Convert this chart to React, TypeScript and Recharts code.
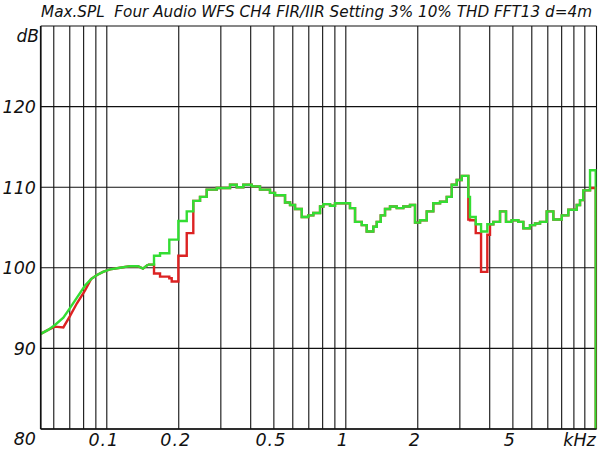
import React from 'react';
import { LineChart, Line, XAxis, YAxis, CartesianGrid } from 'recharts';

const TITLE = 'Max.SPL  Four Audio WFS CH4 FIR/IIR Setting 3% 10% THD FFT13 d=4m';

// frequency axis (kHz)
const F_MIN = 0.0529;
const F_MAX = 11.19;
const gridFreqs = [0.06, 0.07, 0.08, 0.09, 0.1, 0.2, 0.3, 0.4, 0.5, 0.6, 0.7, 0.8, 0.9, 1, 2, 3, 4, 5, 6, 7, 8, 9, 10];
const labeledFreqs = [0.1, 0.2, 0.5, 1, 2, 5];
const X_UNIT = 'kHz';

// level axis (dB)
const dbTicks = [80, 90, 100, 110, 120, 130];
const Y_UNIT = 'dB';

// smooth low-frequency part
const lowFreq = [0.0529, 0.0568, 0.0607, 0.0658, 0.0701, 0.075, 0.0811, 0.0859, 0.091, 0.0964, 0.1031, 0.1136, 0.125, 0.1351, 0.1417, 0.1487];
const lowGreen = [91.8, 92.3, 92.9, 93.8, 95.0, 96.3, 97.8, 98.6, 99.1, 99.5, 99.8, 100.0, 100.2, 100.2, 99.9, 100.4];
const lowRed = [91.8, 92.3, 92.7, 92.6, 94.0, 95.6, 97.2, 98.6, 99.1, 99.5, 99.8, 100.0, 100.2, 100.2, 99.9, 100.4];

// 1/12-octave stepped part
const stepFreq = [0.1487, 0.1576, 0.167, 0.1826, 0.1869, 0.1992, 0.216, 0.2301, 0.2455, 0.2618, 0.2883, 0.3278, 0.3496, 0.3725, 0.404, 0.4375, 0.4817, 0.5056, 0.5568, 0.5843, 0.6132, 0.6541, 0.6966, 0.7311, 0.7802, 0.8054, 0.8589, 0.9012, 1.041, 1.093, 1.166, 1.223, 1.303, 1.347, 1.4, 1.459, 1.531, 1.633, 1.74, 1.856, 1.948, 2.044, 2.181, 2.323, 2.479, 2.644, 2.774, 2.911, 3.054, 3.255, 3.308, 3.496, 3.68, 3.909, 4.011, 4.142, 4.418, 4.68, 4.944, 5.27, 5.53, 5.898, 6.189, 6.495, 6.927, 7.384, 8.006, 8.531, 9.25, 9.548, 9.856, 10.515, 11.107];
const stepGreen = [100.4, 101.5, 101.8, 103.5, 103.5, 105.8, 107.0, 108.3, 108.8, 109.7, 109.9, 110.3, 110.0, 110.3, 110.1, 109.7, 109.3, 109.0, 108.1, 107.8, 107.3, 106.3, 106.5, 106.8, 107.6, 107.9, 107.7, 108.0, 107.4, 105.7, 105.3, 104.5, 105.1, 105.7, 106.5, 107.3, 107.6, 107.4, 107.6, 107.8, 105.6, 105.9, 107.0, 108.0, 108.2, 108.8, 110.3, 110.9, 111.4, 108.8, 106.3, 105.4, 104.5, 105.4, 105.4, 105.7, 107.0, 105.7, 105.9, 105.7, 104.9, 105.3, 105.5, 105.7, 107.0, 106.0, 106.5, 107.2, 107.8, 108.4, 109.6, 112.1, 80];
const stepRed = [100.4, 99.3, 98.9, 98.7, 98.3, 101.5, 104.3, 108.3, 108.8, 109.7, 109.9, 110.3, 110.0, 110.3, 110.1, 109.7, 109.3, 109.0, 108.1, 107.8, 107.3, 106.3, 106.5, 106.8, 107.6, 107.9, 107.7, 108.0, 107.4, 105.7, 105.3, 104.5, 105.1, 105.7, 106.5, 107.3, 107.6, 107.4, 107.6, 107.8, 105.6, 105.9, 107.0, 108.0, 108.2, 108.8, 110.3, 110.9, 111.4, 106.0, 105.9, 104.3, 99.5, 104.1, 105.4, 105.7, 107.0, 105.7, 105.9, 105.7, 104.9, 105.3, 105.5, 105.7, 107.0, 106.0, 106.5, 107.2, 107.8, 108.4, 109.6, 109.9, 80];

const lowData = lowFreq.map((f, i) => ({ f, green: lowGreen[i], red: lowRed[i] }));
const stepData = stepFreq.map((f, i) => ({ f, green: stepGreen[i], red: stepRed[i] }));

const FONT = '"DejaVu Sans", Verdana, sans-serif';
const TITLE_FONT = '"DejaVu Sans Condensed", "DejaVu Sans", sans-serif';
const GREEN = '#33dd33';
const RED = '#dc2222';
const GRID = '#111';

function XTick(props: any) {
  const { x, payload } = props;
  const v = payload.value;
  if (v === F_MAX) {
    return (
      <text x={x - 17} y={446} textAnchor="middle" fontFamily={FONT} fontStyle="italic" fontSize={17.5} fill="#111">
        {X_UNIT}
      </text>
    );
  }
  if (!labeledFreqs.includes(v)) return <g />;
  return (
    <text x={x - 3} y={446} textAnchor="middle" fontFamily={FONT} fontStyle="italic" fontSize={17.5} letterSpacing={1} fill="#111">
      {String(v)}
    </text>
  );
}

function YTick(props: any) {
  const { y, payload } = props;
  const v = payload.value;
  if (v === 130) {
    return (
      <text x={39} y={y + 15.7} textAnchor="end" fontFamily={FONT} fontStyle="italic" fontSize={17} fill="#111">
        {Y_UNIT}
      </text>
    );
  }
  const dy = v === 80 ? 15.5 : 6.5;
  return (
    <text x={36} y={y + dy} textAnchor="end" fontFamily={FONT} fontStyle="italic" fontSize={17.5} fill="#111">
      {String(v)}
    </text>
  );
}

export default function App() {
  return (
    <div style={{ position: 'absolute', left: 0, top: 0, width: 600, height: 450, background: '#fff' }}>
      <LineChart width={600} height={450} margin={{ top: 26, right: 3.5, bottom: 0, left: 0 }}>
        <CartesianGrid stroke={GRID} strokeWidth={1.1} />
        <XAxis
          dataKey="f"
          type="number"
          scale="log"
          domain={[F_MIN, F_MAX]}
          ticks={[...gridFreqs, F_MAX]}
          allowDataOverflow
          height={21}
          tickLine={false}
          axisLine={{ stroke: GRID, strokeWidth: 1.6 }}
          tick={<XTick />}
          interval={0}
        />
        <YAxis
          type="number"
          domain={[80, 130]}
          ticks={dbTicks}
          allowDataOverflow
          width={40.7}
          tickLine={false}
          axisLine={{ stroke: GRID, strokeWidth: 1.6 }}
          tick={<YTick />}
          interval={0}
        />
        <Line data={lowData} dataKey="red" type="linear" stroke={RED} strokeWidth={2.4} dot={false} activeDot={false} isAnimationActive={false} />
        <Line data={stepData} dataKey="red" type="stepAfter" stroke={RED} strokeWidth={2.4} dot={false} activeDot={false} isAnimationActive={false} />
        <Line data={lowData} dataKey="green" type="linear" stroke={GREEN} strokeWidth={2.4} dot={false} activeDot={false} isAnimationActive={false} />
        <Line data={stepData} dataKey="green" type="stepAfter" stroke={GREEN} strokeWidth={2.4} dot={false} activeDot={false} isAnimationActive={false} />
      </LineChart>
      <svg width={600} height={26} style={{ position: 'absolute', left: 0, top: 0 }}>
        <text x={41} y={17.3} fontFamily={TITLE_FONT} fontStyle="italic" fontSize={15} fill="#111" textLength={551} lengthAdjust="spacingAndGlyphs" style={{ whiteSpace: 'pre' }}>
          {TITLE}
        </text>
      </svg>
    </div>
  );
}
